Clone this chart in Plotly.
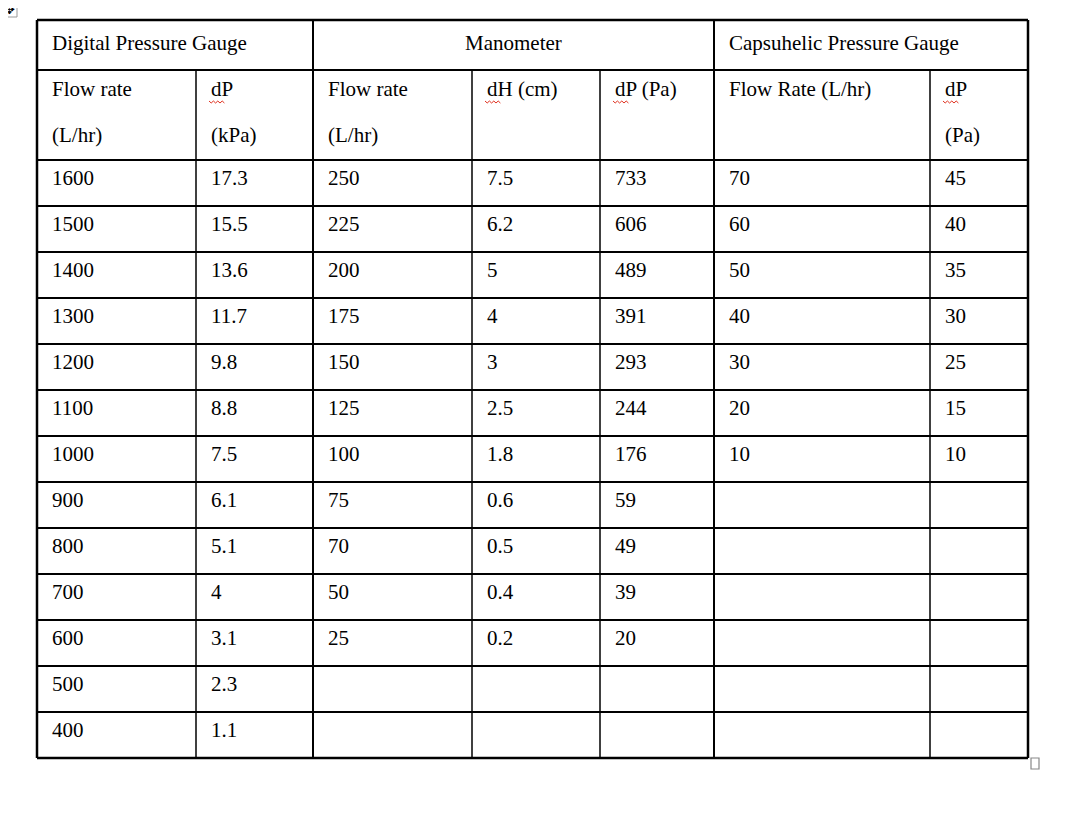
import plotly.graph_objects as go

# ---- data ----
groups = ["Digital Pressure Gauge", "Manometer", "Capsuhelic Pressure Gauge"]
sub_line1 = ["Flow rate", "dP", "Flow rate", "dH (cm)", "dP (Pa)", "Flow Rate (L/hr)", "dP"]
sub_line2 = ["(L/hr)", "(kPa)", "(L/hr)", "", "", "", "(Pa)"]
dig_flow = ["1600", "1500", "1400", "1300", "1200", "1100", "1000", "900", "800", "700", "600", "500", "400"]
dig_dp = ["17.3", "15.5", "13.6", "11.7", "9.8", "8.8", "7.5", "6.1", "5.1", "4", "3.1", "2.3", "1.1"]
man_flow = ["250", "225", "200", "175", "150", "125", "100", "75", "70", "50", "25"]
man_dh = ["7.5", "6.2", "5", "4", "3", "2.5", "1.8", "0.6", "0.5", "0.4", "0.2"]
man_dp = ["733", "606", "489", "391", "293", "244", "176", "59", "49", "39", "20"]
cap_flow = ["70", "60", "50", "40", "30", "20", "10"]
cap_dp = ["45", "40", "35", "30", "25", "15", "10"]
title = "Tabulated experiment data (Q1 4)"

# ---- layout geometry (pixels, window coordinates) ----
W, H = 1076, 828
OFF = 8  # page body margin
col_x = [37, 196, 313, 472, 600, 714, 930, 1028]
top, h1, h2, rh = 20, 70, 160, 46
n_rows = len(dig_flow)
bottom = h2 + n_rows * rh
FONT = "Liberation Serif, Times New Roman, serif"
FS = 21
pad = 13

shapes, ann = [], []
def line(x0, y0, x1, y1, w=1.5):
    shapes.append(dict(type="line", x0=x0, y0=y0, x1=x1, y1=y1, xref="x", yref="y",
                       line=dict(color="black", width=w)))
def text(x, y, s, xanchor="left", size=FS):
    ann.append(dict(x=x, y=y, text=s, xref="x", yref="y", showarrow=False,
                    xanchor=xanchor, yanchor="middle",
                    font=dict(family=FONT, size=size, color="black")))

for y in [top, h1, h2] + [h2 + i * rh for i in range(1, n_rows + 1)]:
    line(col_x[0], y, col_x[-1], y, 2.5 if y in (top, bottom) else 2)
line(col_x[0], top, col_x[0], bottom, 2.5)
line(col_x[-1], top, col_x[-1], bottom, 2.5)
for cx in (col_x[2], col_x[5]):
    line(cx, top, cx, bottom, 2)
for cx in (col_x[1], col_x[3], col_x[4], col_x[6]):
    line(cx, h1, cx, bottom, 1.5)

text(col_x[0] + pad, 43, groups[0])
text((col_x[2] + col_x[5]) / 2, 43, groups[1], xanchor="center")
text(col_x[5] + pad, 43, groups[2])

for i, (a, b) in enumerate(zip(sub_line1, sub_line2)):
    text(col_x[i] + pad, 89, a)
    if b:
        text(col_x[i] + pad, 135, b)
    if a.startswith("dP") or a.startswith("dH"):
        x0 = col_x[i] + pad
        path = "M %g,101" % x0
        for k in range(7):
            path += " L %g,%g" % (x0 + 2.2 * (k + 1), 103 if k % 2 == 0 else 101)
        shapes.append(dict(type="path", path=path, xref="x", yref="y",
                           line=dict(color="#e0301e", width=1)))

cols = [dig_flow, dig_dp, man_flow, man_dh, man_dp, cap_flow, cap_dp]
for ci, col in enumerate(cols):
    for ri, v in enumerate(col):
        text(col_x[ci] + pad, h2 + ri * rh + 18, v)

# title cut off at the top edge, as in the reference
ann.append(dict(x=60, y=10, text="<b>" + title + "</b>", xref="x", yref="y", showarrow=False,
                xanchor="left", yanchor="bottom", font=dict(family=FONT, size=26, color="black")))
shapes.append(dict(type="rect", x0=1, y0=1, x1=17, y1=17, xref="x", yref="y",
                   line=dict(color="#999", width=1), fillcolor="white"))
text(9, 9, "✥", xanchor="center", size=13)
shapes.append(dict(type="rect", x0=1031, y0=758, x1=1039, y1=769, xref="x", yref="y",
                   line=dict(color="#888", width=1.2), fillcolor="white"))

fig = go.Figure()
fig.update_layout(
    width=W, height=H, margin=dict(l=0, r=0, t=0, b=0),
    paper_bgcolor="white", plot_bgcolor="white",
    xaxis=dict(range=[OFF, W + OFF], visible=False, fixedrange=True),
    yaxis=dict(range=[H + OFF, OFF], visible=False, fixedrange=True),
    shapes=shapes, annotations=ann, showlegend=False,
)
fig.write_html("out.html")
